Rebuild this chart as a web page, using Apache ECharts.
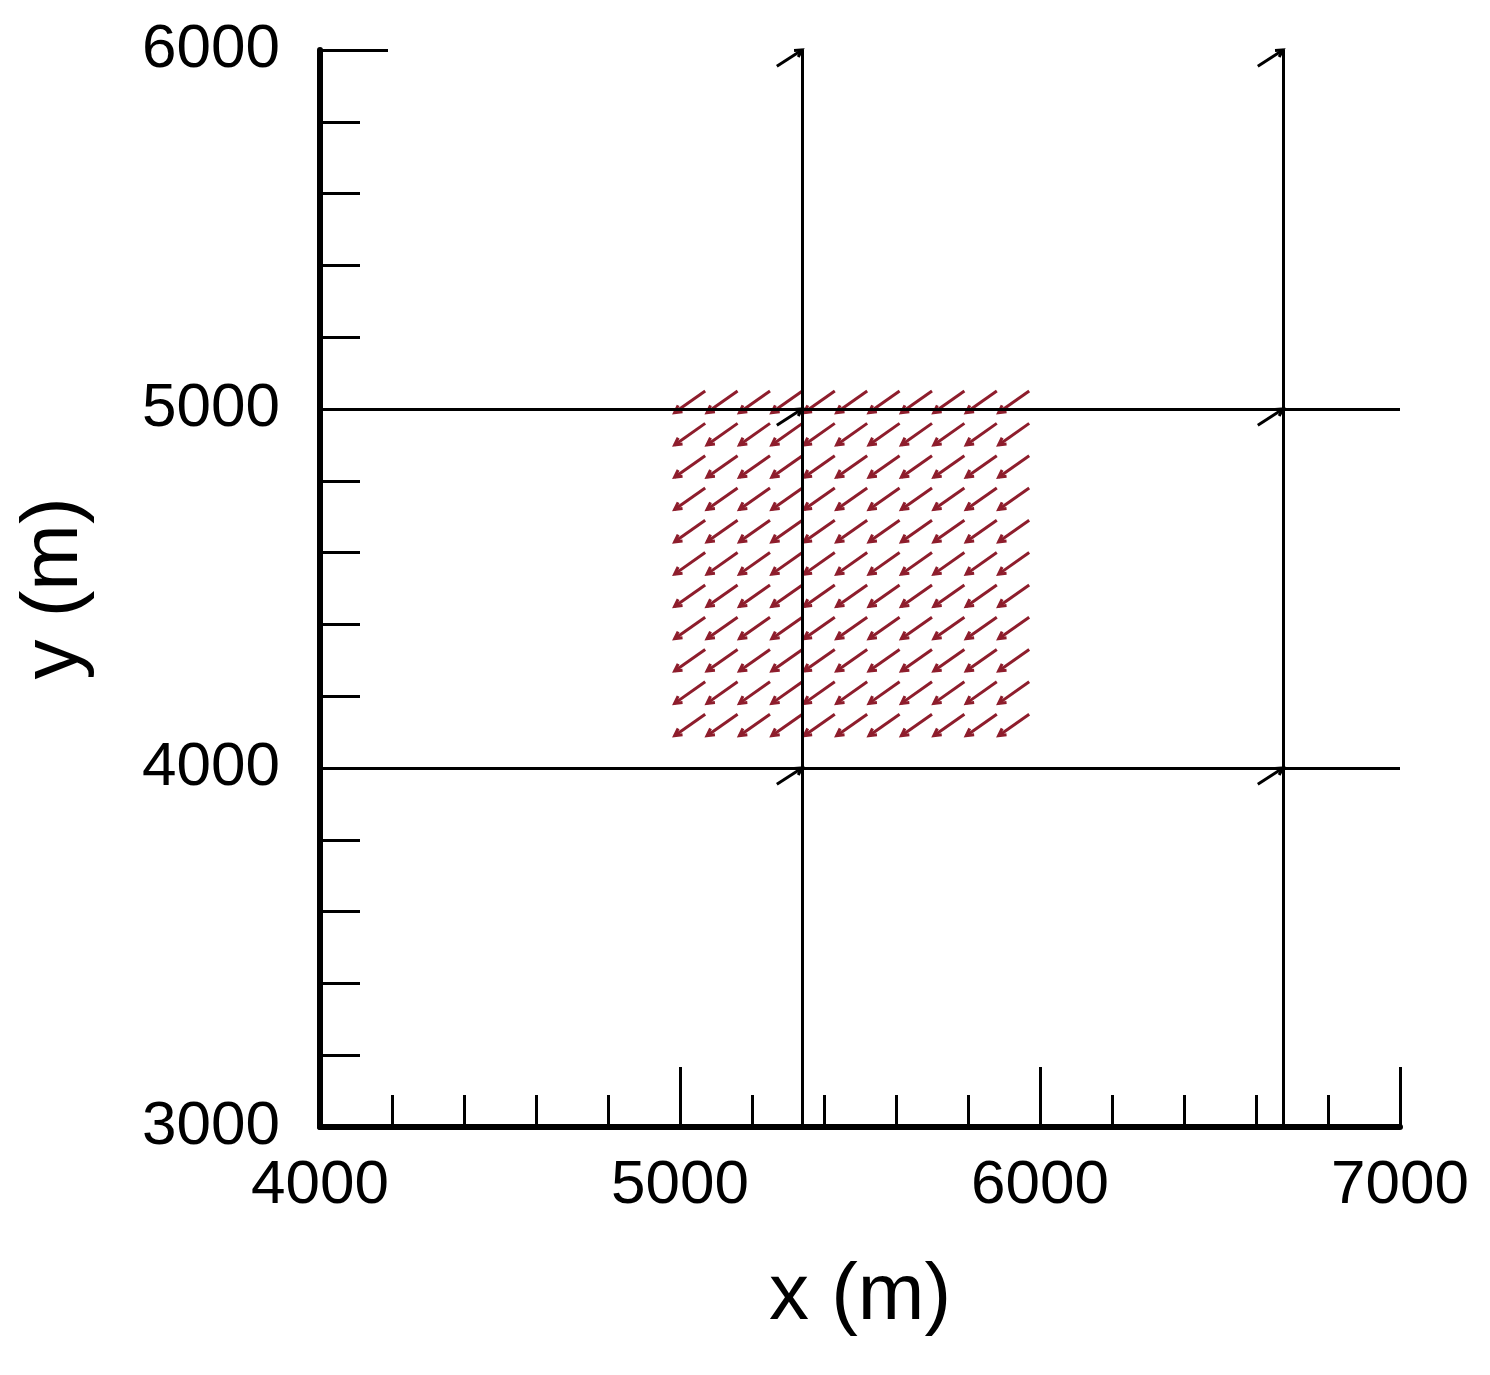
<!DOCTYPE html>
<html>
<head>
<meta charset="utf-8">
<script src="https://cdn.jsdelivr.net/npm/echarts@6/dist/echarts.min.js"></script>
<style>html,body{margin:0;padding:0;background:#fff}#chart{width:1490px;height:1375px}</style>
</head>
<body>
<div id="chart"></div>
<script>
// red vector field: grid points (arrow tails) and a uniform (u, v) vector in metres
const fieldX = [5070, 5160, 5250, 5340, 5430, 5520, 5610, 5700, 5790, 5880, 5970]
const fieldY = [4150, 4240, 4330, 4420, 4510, 4600, 4690, 4780, 4870, 4960, 5050]
const fieldU = -85
const fieldV = -60
// black vectors at the grid-line crossings
const gridX = [5339, 6675]
const gridY = [4000, 5000, 6000]
const blackU = 70
const blackV = 45

const redData = []
fieldX.forEach(x => fieldY.forEach(y => redData.push([x, y, fieldU, fieldV])))
const blackData = []
gridX.forEach(x => gridY.forEach(y => blackData.push([x - blackU, y - blackV, blackU, blackV])))

function arrow(params, api, color, width) {
  const x = api.value(0), y = api.value(1)
  const p0 = api.coord([x, y])
  const p1 = api.coord([x + api.value(2), y + api.value(3)])
  const ang = Math.atan2(p1[1] - p0[1], p1[0] - p0[0])
  const h = 8
  const a1 = [p1[0] - h * Math.cos(ang - 0.5), p1[1] - h * Math.sin(ang - 0.5)]
  const a2 = [p1[0] - h * Math.cos(ang + 0.5), p1[1] - h * Math.sin(ang + 0.5)]
  return {
    type: 'group',
    children: [
      { type: 'line', shape: { x1: p0[0], y1: p0[1], x2: p1[0], y2: p1[1] }, style: { stroke: color, lineWidth: width } },
      { type: 'polyline', shape: { points: [a1, p1, a2] }, style: { stroke: color, lineWidth: width, fill: null } }
    ]
  }
}

const font = 'Liberation Sans, Arial, sans-serif'
const plain = v => String(v)
const chart = echarts.init(document.getElementById('chart'))
chart.setOption({
  animation: false,
  grid: { left: 320, right: 90, top: 50, bottom: 248 },
  xAxis: {
    type: 'value', min: 4000, max: 7000, interval: 1000,
    name: 'x (m)', nameLocation: 'middle', nameGap: 130,
    nameTextStyle: { fontSize: 80, fontFamily: font, color: '#000' },
    axisLine: { onZero: false, lineStyle: { color: '#000', width: 6 } },
    axisTick: { inside: true, length: 60, lineStyle: { color: '#000', width: 3 } },
    minorTick: { show: true, splitNumber: 5, length: 32, lineStyle: { color: '#000', width: 3 } },
    axisLabel: { fontSize: 62, fontFamily: font, color: '#000', margin: 28, formatter: plain },
    splitLine: { show: false }
  },
  yAxis: {
    type: 'value', min: 3000, max: 6000, interval: 1000,
    name: 'y (m)', nameLocation: 'middle', nameGap: 225, nameRotate: 90,
    nameTextStyle: { fontSize: 80, fontFamily: font, color: '#000' },
    axisLine: { onZero: false, lineStyle: { color: '#000', width: 6 } },
    axisTick: { inside: true, length: 68, lineStyle: { color: '#000', width: 3 } },
    minorTick: { show: true, splitNumber: 5, length: 40, lineStyle: { color: '#000', width: 3 } },
    axisLabel: { fontSize: 62, fontFamily: font, color: '#000', margin: 40, formatter: plain },
    splitLine: { show: false }
  },
  series: [
    {
      type: 'custom', data: redData,
      renderItem: (p, api) => arrow(p, api, '#8e1d2c', 3),
      markLine: {
        symbol: 'none', silent: true, label: { show: false },
        lineStyle: { color: '#000', width: 3, type: 'solid' },
        data: gridX.map(x => ({ xAxis: x })).concat([4000, 5000].map(y => ({ yAxis: y })))
      }
    },
    {
      type: 'custom', data: blackData,
      renderItem: (p, api) => arrow(p, api, '#000', 3)
    }
  ]
})
</script>
</body>
</html>
